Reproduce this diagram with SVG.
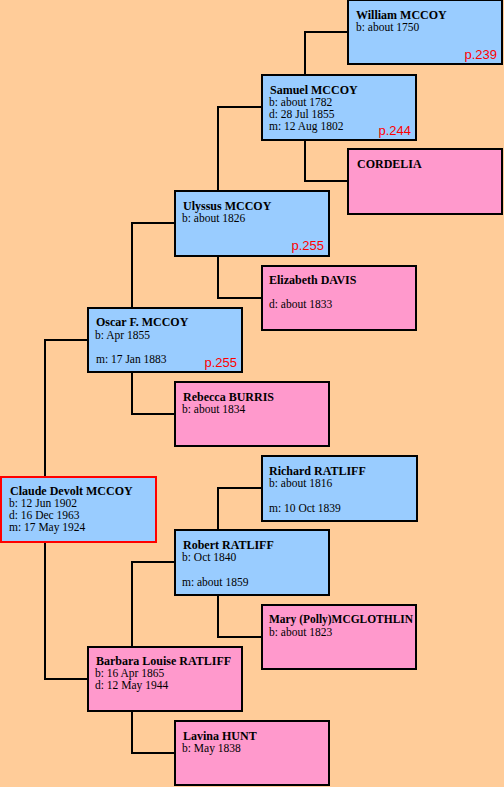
<svg xmlns="http://www.w3.org/2000/svg" width="504" height="787" viewBox="0 0 504 787">
<style>
.m{fill:#99CCFF;stroke:#000;stroke-width:2}
.f{fill:#FF99CC;stroke:#000;stroke-width:2}
.r{stroke:#FF0000}
.n{font-family:"Liberation Serif",serif;font-weight:bold;font-size:12px;fill:#000}
.d{font-family:"Liberation Serif",serif;font-size:11.5px;fill:#000}
.p{font-family:"Liberation Sans",sans-serif;font-size:13px;fill:#FF0000;text-anchor:end}
.c{fill:none;stroke:#000;stroke-width:2}
</style>
<rect width="504" height="787" fill="#FFCC99"/>
<g id="connectors" class="c">
<path d="M305,75V32H348"/>
<path d="M305,140V181H348"/>
<path d="M218,191V107H262"/>
<path d="M218,256V298H262"/>
<path d="M132,308V223H175"/>
<path d="M132,372V414H175"/>
<path d="M45,477V340H88"/>
<path d="M45,542V679H88"/>
<path d="M218,530V488H262"/>
<path d="M218,595V637H262"/>
<path d="M132,647V562H175"/>
<path d="M132,711V753H175"/>
</g>
<g id="william">
<rect class="m" x="348" y="0" width="154" height="64"/>
<text class="n" x="356" y="19">William MCCOY</text>
<text class="d" x="356" y="31">b: about 1750</text>
<text class="p" x="497" y="59">p.239</text>
</g>
<g id="samuel">
<rect class="m" x="262" y="75" width="154" height="65"/>
<text class="n" x="270" y="94">Samuel MCCOY</text>
<text class="d" x="269" y="106">b: about 1782</text>
<text class="d" x="269" y="118">d: 28 Jul 1855</text>
<text class="d" x="269" y="130">m: 12 Aug 1802</text>
<text class="p" x="411" y="135">p.244</text>
</g>
<g id="cordelia">
<rect class="f" x="348" y="149" width="154" height="65"/>
<text class="n" x="357" y="168">CORDELIA</text>
</g>
<g id="ulyssus">
<rect class="m" x="175" y="191" width="154" height="65"/>
<text class="n" x="183" y="210">Ulyssus MCCOY</text>
<text class="d" x="182" y="222">b: about 1826</text>
<text class="p" x="324" y="250">p.255</text>
</g>
<g id="elizabeth">
<rect class="f" x="262" y="266" width="154" height="64"/>
<text class="n" x="269" y="284">Elizabeth DAVIS</text>
<text class="d" x="269" y="308">d: about 1833</text>
</g>
<g id="oscar">
<rect class="m" x="88" y="308" width="154" height="64"/>
<text class="n" x="96" y="326">Oscar F. MCCOY</text>
<text class="d" x="95" y="339">b: Apr 1855</text>
<text class="d" x="96" y="363">m: 17 Jan 1883</text>
<text class="p" x="237" y="367">p.255</text>
</g>
<g id="rebecca">
<rect class="f" x="175" y="382" width="154" height="64"/>
<text class="n" x="183" y="401">Rebecca BURRIS</text>
<text class="d" x="182" y="413">b: about 1834</text>
</g>
<g id="claude">
<rect class="m r" x="1" y="477" width="155" height="65"/>
<text class="n" x="10" y="495">Claude Devolt MCCOY</text>
<text class="d" x="9" y="507">b: 12 Jun 1902</text>
<text class="d" x="9" y="519">d: 16 Dec 1963</text>
<text class="d" x="9" y="531">m: 17 May 1924</text>
</g>
<g id="richard">
<rect class="m" x="262" y="456" width="155" height="65"/>
<text class="n" x="269" y="475">Richard RATLIFF</text>
<text class="d" x="269" y="487">b: about 1816</text>
<text class="d" x="269" y="512">m: 10 Oct 1839</text>
</g>
<g id="robert">
<rect class="m" x="175" y="530" width="154" height="65"/>
<text class="n" x="183" y="549">Robert RATLIFF</text>
<text class="d" x="182" y="561">b: Oct 1840</text>
<text class="d" x="182" y="586">m: about 1859</text>
</g>
<g id="mary">
<rect class="f" x="262" y="605" width="154" height="64"/>
<text class="n" x="269" y="623" textLength="144" lengthAdjust="spacingAndGlyphs">Mary (Polly)MCGLOTHLIN</text>
<text class="d" x="269" y="636">b: about 1823</text>
</g>
<g id="barbara">
<rect class="f" x="88" y="647" width="154" height="64"/>
<text class="n" x="96" y="665">Barbara Louise RATLIFF</text>
<text class="d" x="95" y="677">b: 16 Apr 1865</text>
<text class="d" x="95" y="689">d: 12 May 1944</text>
</g>
<g id="lavina">
<rect class="f" x="175" y="721" width="154" height="64"/>
<text class="n" x="183" y="740">Lavina HUNT</text>
<text class="d" x="182" y="752">b: May 1838</text>
</g>
</svg>
